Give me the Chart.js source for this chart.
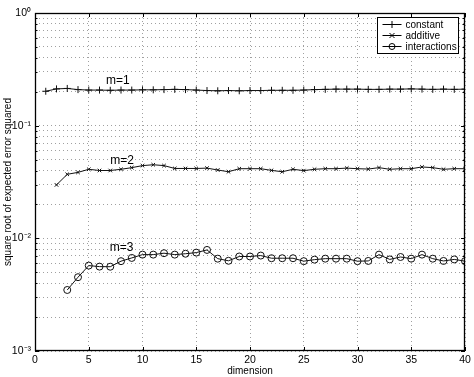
<!DOCTYPE html>
<html>
<head>
<meta charset="utf-8">
<script src="https://cdn.jsdelivr.net/npm/chart.js@4"></script>
<style>
  html, body { margin: 0; padding: 0; background: #fff; }
</style>
</head>
<body>
<canvas id="errChart" width="474" height="377"></canvas>
<script>
// error vs dimension
// one log chart, three models

const dims = [1, 2, 3, 4, 5, 6, 7, 8, 9, 10, 11, 12, 13, 14, 15, 16, 17, 18, 19, 20,
  21, 22, 23, 24, 25, 26, 27, 28, 29, 30, 31, 32, 33, 34, 35, 36, 37, 38, 39, 40];

// m=1, starts at dimension 1
const constantErr = [0.202, 0.212, 0.214, 0.209, 0.207, 0.207, 0.206, 0.207, 0.207, 0.208,
  0.208, 0.209, 0.210, 0.209, 0.207, 0.205, 0.204, 0.205, 0.204, 0.205,
  0.205, 0.206, 0.206, 0.206, 0.207, 0.209, 0.210, 0.211, 0.211, 0.211,
  0.210, 0.210, 0.211, 0.211, 0.212, 0.211, 0.210, 0.211, 0.210, 0.211];

// m=2, starts at dimension 2
const additiveErr = [0.0298, 0.037, 0.0385, 0.041, 0.040, 0.040, 0.041, 0.0424, 0.0442,
  0.045, 0.0442, 0.0417, 0.0417, 0.0417, 0.042, 0.0404, 0.039, 0.0415, 0.0415,
  0.0415, 0.0401, 0.039, 0.041, 0.0399, 0.041, 0.0415, 0.0415, 0.042, 0.0415,
  0.0412, 0.0424, 0.041, 0.0415, 0.0415, 0.043, 0.0424, 0.041, 0.0415, 0.0415];

// m=3, starts at dimension 3
const interactionsErr = [0.00348, 0.00452, 0.00573, 0.00561, 0.0056, 0.00627, 0.0067, 0.00717,
  0.00717, 0.00738, 0.00717, 0.0073, 0.00747, 0.00789, 0.0066, 0.00632, 0.0069, 0.0069,
  0.00703, 0.00666, 0.00666, 0.00666, 0.00627, 0.00647, 0.0066, 0.0066, 0.0066, 0.00627,
  0.0063, 0.00717, 0.0065, 0.00683, 0.0066, 0.00717, 0.0066, 0.0063, 0.0065, 0.00627];

const xTicks = [0, 5, 10, 15, 20, 25, 30, 35, 40];
const decades = [0.001, 0.01, 0.1, 1];
const decadeLabels = ["10\u207B\u00B3", "10\u207B\u00B2", "10\u207B\u00B9", "10\u2070"];

// log ticks 1..9 in each decade
const yTicks = [];
decades.forEach((d, i) => {
  if (i === decades.length - 1) { yTicks.push(d); return; }
  for (let k = 1; k < 10; k++) yTicks.push(+(d * k).toPrecision(3));
});

// text labels next to the curves, in data coords
const curveNotes = [
  { text: "m=1", x: 7.7, y: 0.25 },
  { text: "m=2", x: 8.1, y: 0.049 },
  { text: "m=3", x: 8.05, y: 0.0083 }
];

const FONT = "'Liberation Sans', Arial, Helvetica, sans-serif";

function toPoints(values, firstDim) {
  return values.map((v, i) => ({ x: dims[firstDim - 1 + i], y: v }));
}

function drawMarker(ctx, style, cx, cy, r) {
  ctx.beginPath();
  if (style === "cross") {
    ctx.moveTo(cx - r, cy); ctx.lineTo(cx + r, cy);
    ctx.moveTo(cx, cy - r); ctx.lineTo(cx, cy + r);
  } else if (style === "crossRot") {
    ctx.moveTo(cx - r, cy - r); ctx.lineTo(cx + r, cy + r);
    ctx.moveTo(cx - r, cy + r); ctx.lineTo(cx + r, cy - r);
  } else {
    ctx.arc(cx, cy, r, 0, Math.PI * 2);
  }
  ctx.stroke();
}

// matlab style: box, inward ticks, notes, boxed legend
const axesDecor = {
  id: "axesDecor",
  afterDatasetsDraw(chart) {
    const { ctx, chartArea: a, scales: { x, y } } = chart;
    ctx.save();
    ctx.setLineDash([]);
    ctx.strokeStyle = "#000";
    ctx.lineWidth = 1;

    ctx.beginPath();
    xTicks.forEach(v => {
      const px = Math.round(x.getPixelForValue(v)) + 0.5;
      ctx.moveTo(px, a.bottom); ctx.lineTo(px, a.bottom - 4);
      ctx.moveTo(px, a.top); ctx.lineTo(px, a.top + 4);
    });
    yTicks.forEach(v => {
      const len = decades.includes(v) ? 4 : 2.5;
      const py = Math.round(y.getPixelForValue(v)) + 0.5;
      ctx.moveTo(a.left, py); ctx.lineTo(a.left + len, py);
      ctx.moveTo(a.right, py); ctx.lineTo(a.right - len, py);
    });
    ctx.stroke();

    ctx.lineWidth = 1.3;
    ctx.strokeRect(Math.round(a.left) + 0.5, Math.round(a.top) + 0.5,
      Math.round(a.width) - 1, Math.round(a.height) - 1);

    // m=.. notes
    ctx.fillStyle = "#000";
    ctx.font = "12px " + FONT;
    ctx.textAlign = "center";
    ctx.textBaseline = "middle";
    curveNotes.forEach(n => {
      ctx.fillText(n.text, x.getPixelForValue(n.x), y.getPixelForValue(n.y));
    });

    // legend box
    const bw = 81, bh = 36;
    const bx = Math.round(a.right) - 7 - bw + 0.5;
    const by = Math.round(a.top) + 4 + 0.5;
    ctx.fillStyle = "#fff";
    ctx.fillRect(bx, by, bw, bh);
    ctx.lineWidth = 1;
    ctx.strokeRect(bx, by, bw, bh);
    ctx.font = "10px " + FONT;
    ctx.textAlign = "left";
    chart.data.datasets.forEach((ds, i) => {
      const ly = by + 7 + i * 11;
      ctx.beginPath();
      ctx.moveTo(bx + 5, ly); ctx.lineTo(bx + 24, ly);
      ctx.stroke();
      drawMarker(ctx, ds.pointStyle, bx + 14.5, ly, ds.pointStyle === "circle" ? 3 : (ds.pointStyle === "crossRot" ? 2.5 : 3.5));
      ctx.fillStyle = "#000";
      ctx.fillText(ds.label, bx + 28, ly + 0.5);
    });
    ctx.restore();
  }
};

const ctx = document.getElementById("errChart").getContext("2d");
const chart = new Chart(ctx, {
  type: "line",
  data: {
    datasets: [
      {
        label: "constant",
        data: toPoints(constantErr, 1),
        borderColor: "#111",
        borderWidth: 1,
        pointStyle: "cross",
        pointRadius: 3.5,
        pointBorderWidth: 1,
        pointBorderColor: "#111",
        fill: false
      },
      {
        label: "additive",
        data: toPoints(additiveErr, 2),
        borderColor: "#111",
        borderWidth: 1,
        pointStyle: "crossRot",
        pointRadius: 2.5,
        pointBorderWidth: 1,
        pointBorderColor: "#111",
        fill: false
      },
      {
        label: "interactions",
        data: toPoints(interactionsErr, 3),
        borderColor: "#111",
        borderWidth: 1,
        pointStyle: "circle",
        pointRadius: 3.5,
        pointBorderWidth: 1,
        pointBorderColor: "#111",
        pointBackgroundColor: "rgba(255,255,255,0)",
        fill: false
      }
    ]
  },
  options: {
    responsive: false,
    animation: false,
    layout: { padding: { left: 0, right: 9, top: 13, bottom: 0 } },
    plugins: {
      legend: { display: false },
      tooltip: { enabled: false }
    },
    scales: {
      x: {
        type: "linear",
        min: 0,
        max: 40,
        afterBuildTicks: s => { s.ticks = xTicks.map(v => ({ value: v })); },
        afterFit: s => { s.height = 26; },
        ticks: { autoSkip: false, padding: 3, maxRotation: 0, color: "#000", font: { family: FONT, size: 10.5 } },
        grid: { color: "#a0a0a0", drawTicks: false },
        border: { display: false, dash: [1, 3] },
        title: { display: true, text: "dimension", color: "#000", font: { family: FONT, size: 10 }, padding: 0 }
      },
      y: {
        type: "logarithmic",
        min: 0.001,
        max: 1,
        afterBuildTicks: s => { s.ticks = yTicks.map(v => ({ value: v })); },
        afterFit: s => { s.width = 35; },
        ticks: {
          autoSkip: false,
          padding: 4,
          color: "#000",
          font: { family: FONT, size: 10.5 },
          callback: v => {
            const i = decades.indexOf(v);
            return i >= 0 ? decadeLabels[i] : "";
          }
        },
        grid: { color: "#a0a0a0", drawTicks: false },
        border: { display: false, dash: [1, 3] },
        title: { display: true, text: "square root of expected error squared", color: "#000", font: { family: FONT, size: 10 }, padding: 2 }
      }
    }
  },
  plugins: [axesDecor]
});
</script>
</body>
</html>
